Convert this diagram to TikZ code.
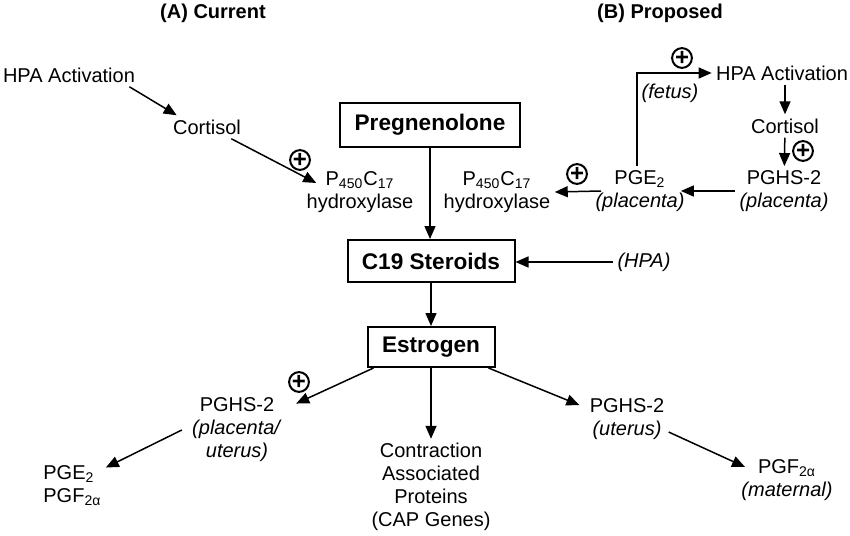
\documentclass[tikz,border=0pt]{standalone}
\usepackage{fontspec}
\setmainfont{Liberation Sans}
\usetikzlibrary{arrows.meta,positioning}
\tikzset{
  box/.style ={draw=black,line width=1pt,align=center,inner sep=2pt,
               font=\fontsize{11.3}{13}\selectfont\bfseries},
  lbl/.style ={align=center,inner sep=2pt,font=\fontsize{10}{11.5}\selectfont},
  ttl/.style ={font=\fontsize{10}{12}\selectfont\bfseries},
  stim/.style={draw=black,circle,line width=1pt,inner sep=0pt,minimum size=9pt,
               font=\fontsize{12}{12}\selectfont\bfseries},
  a/.style   ={-{Triangle[length=6.5pt,width=5.5pt]},line width=.75pt},
}

\begin{document}
\begin{tikzpicture}[x=.5pt,y=-.5pt]
  \useasboundingbox (0,0) rectangle (850,535);
  \node[ttl] (ttlA) at (213,13) {(A) Current};
  \node[ttl] (ttlB) at (660,13) {(B) Proposed};

  \node[box,minimum width=90pt,minimum height=21.5pt] (preg) at (430,125) {Pregnenolone};
  \node[box,minimum width=83.5pt,minimum height=21pt] (c19) at (431,261) {C19 Steroids};
  \node[box,minimum width=63.5pt,minimum height=20pt] (estr) at (431,347) {Estrogen};

  \node[lbl] (hpaA) at (69,75) {HPA Activation};
  \node[lbl] (cortA) at (207,127) {Cortisol};
  \node[lbl] (p450A) at (360,192) {P\textsubscript{450}C\textsubscript{17}\\hydroxylase};
  \node[lbl] (hpaB) at (782,73) {HPA Activation};
  \node[lbl] (cortB) at (785,126) {Cortisol};
  \node[lbl] (pghsB) at (784,191) {PGHS-2\\\textit{(placenta)}};
  \node[lbl] (pgeB) at (640,191) {PGE\textsubscript{2}\\\textit{(placenta)}};
  \node[lbl] (p450B) at (497,192) {P\textsubscript{450}C\textsubscript{17}\\hydroxylase};
  \node[lbl] (fetus) at (670,93) {\textit{(fetus)}};
  \node[lbl] (hpaC19) at (644,262) {\textit{(HPA)}};
  \node[lbl] (cap) at (431,487) {Contraction\\Associated\\Proteins\\(CAP Genes)};
  \node[lbl] (pghsL) at (237,430) {PGHS-2\\\textit{(placenta/}\\\textit{uterus)}};
  \node[lbl,align=left,anchor=west] (pgeL) at (39,486) {PGE\textsubscript{2}\\PGF\textsubscript{2α}};
  \node[lbl] (pghsR) at (627,419) {PGHS-2\\\textit{(uterus)}};
  \node[lbl] (pgfR) at (787,480) {PGF\textsubscript{2α}\\\textit{(maternal)}};

  \node[stim] (s1) at (300,160) {+};
  \node[stim] (s2) at (682,58) {+};
  \node[stim] (s3) at (803,151) {+};
  \node[stim] (s4) at (577,174) {+};
  \node[stim] (s5) at (299,382) {+};

  \draw[a] ([xshift=-5pt]hpaA.south east) -- ([xshift=4pt]cortA.north west);
  \draw[a] ([xshift=-7pt]cortA.south east) -- ([xshift=7pt,yshift=4.5pt]p450A.west);
  \draw[a] (preg.south) -- (preg.south |- c19.north);
  \draw[a] (hpaC19.west) -- (hpaC19.west -| c19.east);
  \draw[a] (c19) -- (estr);
  \draw[a] (estr) -- (cap);
  \draw[a] ([xshift=3.5pt]estr.south west) -- ([xshift=5pt,yshift=-5pt]pghsL.north east);
  \draw[a] ([xshift=-3pt]pghsL.west) -- ([yshift=-3pt]pgeL.north east);
  \draw[a] ([xshift=-3.5pt]estr.south east) -- ([xshift=-3pt,yshift=-5.5pt]pghsR.north west);
  \draw[a] ([yshift=-6.5pt]pghsR.east) -- ([xshift=4pt,yshift=6.5pt]pgfR.west);
  \draw[a] ([xshift=-1.5pt]pgeB.north) |- (hpaB.west);
  \draw[a] (cortB.north |- hpaB.south) -- (cortB.north);
  \draw[a] (cortB) -- (pghsB);
  \draw[a] (pghsB.west) -- ([xshift=-4pt]pgeB.east);
  \draw[a] ([xshift=5pt]pgeB.west) -- (p450B.east);
\end{tikzpicture}
\end{document}
